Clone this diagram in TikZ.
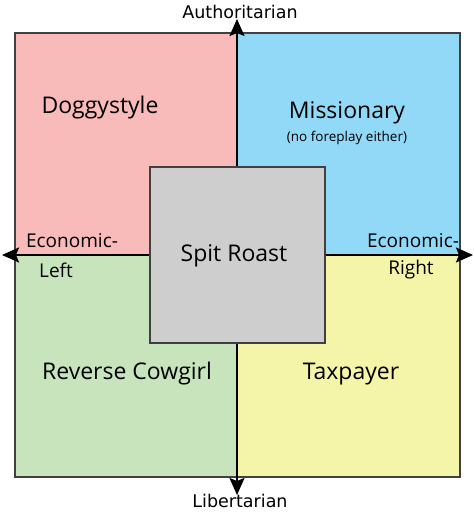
\documentclass[tikz,border=0pt]{standalone}
\usepackage{fontspec}
\setmainfont{Open Sans}
\newfontfamily\axisfont{DejaVu Sans}
\usetikzlibrary{arrows.meta}
\definecolor{AuthLeft}{RGB}{249,186,186}
\definecolor{AuthRight}{RGB}{146,217,248}
\definecolor{LibLeft}{RGB}{200,228,188}
\definecolor{LibRight}{RGB}{245,245,170}
\definecolor{Centre}{RGB}{206,206,206}
\newcommand{\drawquadrant}[5]{% Parameters: color, x1, y1, x2, y2
  \draw[draw=black!75,fill=#1,line width=1.2pt] (#2,#3) rectangle (#4,#5);
}
\tikzset{
  axislabel/.style={font=\axisfont\fontsize{17.5}{20}\selectfont,inner sep=0pt},
  econlabel/.style={font=\fontsize{19}{22}\selectfont,inner sep=0pt},
  quadlabel/.style={font=\fontsize{23}{27}\selectfont,inner sep=0pt},
  axisarrow/.style={line width=2pt,-{Stealth[length=17pt,width=15pt,inset=3pt]}}
}
\begin{document}
\begin{tikzpicture}[x=1pt,y=-1pt]
    \useasboundingbox[fill=white] (0,0) rectangle (474,515);
    \drawquadrant{AuthLeft}{15}{33}{237}{255}
    \drawquadrant{AuthRight}{237}{33}{460}{255}
    \drawquadrant{LibLeft}{15}{255}{237}{477}
    \drawquadrant{LibRight}{237}{255}{460}{477}
    % axes
    \coordinate (centre) at (237,255);
    \coordinate (top) at (237,19);
    \coordinate (bottom) at (237,495);
    \coordinate (left) at (2,255);
    \coordinate (right) at (473,255);
    \draw[axisarrow] (centre) -- (top);
    \draw[axisarrow] (centre) -- (bottom);
    \draw[axisarrow] (centre) -- (left);
    \draw[axisarrow] (centre) -- (right);
    \node[draw=black!75,fill=Centre,line width=1.2pt,minimum width=175pt,minimum height=176pt,inner sep=0pt] (spit) at (237.5,255) {};
    \node[quadlabel] (spittext) at (234,256) {Spit Roast};
    % labels
    \node[axislabel] (auth) at (240,12) {Authoritarian};
    \node[axislabel] (lib) at (240,501) {Libertarian};
    \node[econlabel] (econl) at (72,241) {Economic-};
    \node[econlabel] (leftl) at (56,270) {Left};
    \node[econlabel] (econr) at (413,241) {Economic-};
    \node[econlabel] (rightl) at (411,270) {Right};
    \node[quadlabel] (doggy) at (100,108) {Doggystyle};
    \node[quadlabel] (miss) at (347,113) {Missionary};
    \node[font=\fontsize{13.5}{16}\selectfont,inner sep=0pt] (fore) at (347,138) {(no foreplay either)};
    \node[quadlabel] (cowgirl) at (127,374) {Reverse Cowgirl};
    \node[quadlabel] (tax) at (351,374) {Taxpayer};
\end{tikzpicture}
\end{document}
